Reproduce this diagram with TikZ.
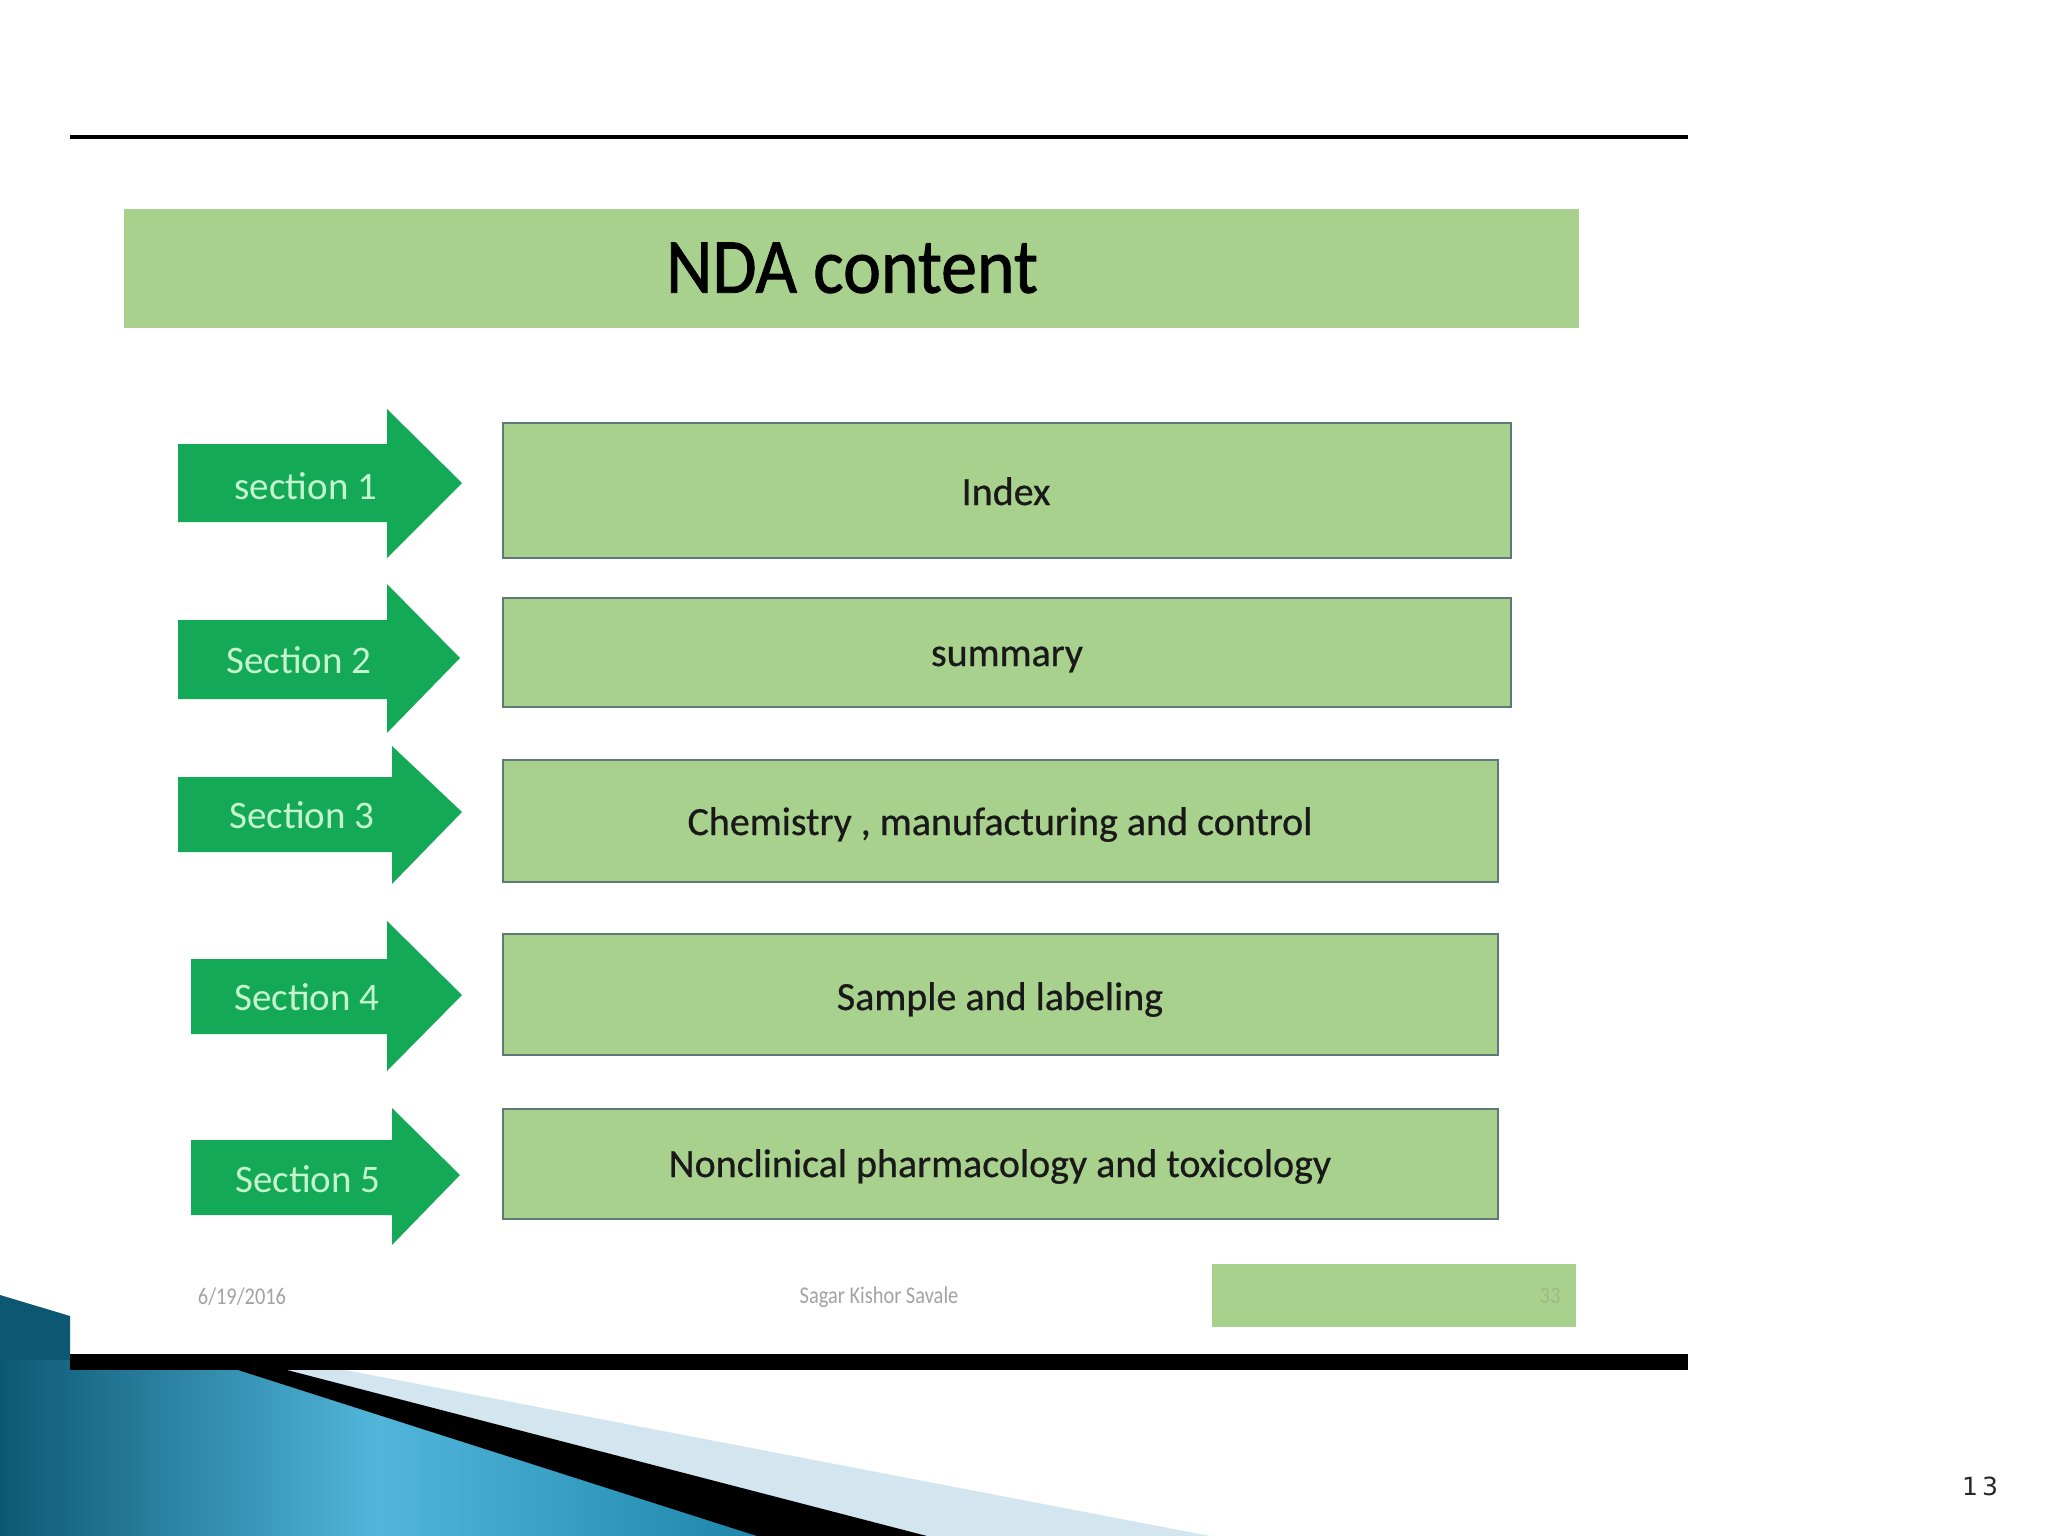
\documentclass[tikz,border=0pt]{standalone}
\usepackage{fontspec}
\setmainfont{Carlito}
\newfontfamily\pagefont{DejaVu Sans}
\newfontfamily\titlefont{Carlito}[FakeBold=1.2]
\newfontfamily\boxfont{Carlito}[FakeBold=0.6]
\definecolor{bandgreen}{HTML}{A9D18E}
\definecolor{arrowgreen}{HTML}{14A957}
\definecolor{arrowtext}{HTML}{C4F5CF}
\definecolor{boxborder}{HTML}{5F7878}
\definecolor{tealdark}{HTML}{0C5873}
\definecolor{teallight}{HTML}{52B6DB}
\definecolor{tealmid}{HTML}{1D86AB}
\definecolor{paleblue}{HTML}{D3E6EF}
\definecolor{footgray}{HTML}{A3A3A3}
\tikzset{
  contentbox/.style={draw=boxborder, line width=2.2pt, fill=bandgreen},
  boxtext/.style={font=\boxfont\fontsize{40}{46}\selectfont, text=black!90, anchor=center, inner sep=0pt, text height=26pt, text depth=0pt},
  arrowshape/.style={fill=arrowgreen, draw=none},
  arrowlabel/.style={font=\fontsize{39}{44}\selectfont, text=arrowtext, anchor=center, inner sep=0pt, text height=26pt, text depth=0pt},
  foottext/.style={font=\fontsize{24}{26}\selectfont, text=footgray, anchor=center, inner sep=0pt}
}
\begin{document}
\begin{tikzpicture}[x=1pt, y=-1pt]
\useasboundingbox (0,0) rectangle (2048,1536);
\fill[white] (0,0) rectangle (2048,1536);

% top rule
\draw[line width=4pt, black] (70,137) -- (1688,137);

% title band
\fill[bandgreen] (124,209) rectangle (1579,328);
\node[inner sep=0pt, anchor=center] (title) at (852,268)
  {\scalebox{0.92}[1]{\titlefont\fontsize{78}{84}\selectfont NDA content}};

% arrows
\fill[arrowshape] (178,444) -- (387,444) -- (387,409) -- (462,483) -- (387,558) -- (387,522) -- (178,522) -- cycle;
\node[arrowlabel] (s1) at (306,486) {section 1};
\fill[arrowshape] (178,620) -- (387,620) -- (387,584) -- (460,658) -- (387,733) -- (387,699) -- (178,699) -- cycle;
\node[arrowlabel] (s2) at (299,660) {Section 2};
\fill[arrowshape] (178,777) -- (392,777) -- (392,746) -- (462,812) -- (392,884) -- (392,852) -- (178,852) -- cycle;
\node[arrowlabel] (s3) at (302,815) {Section 3};
\fill[arrowshape] (191,959) -- (387,959) -- (387,921) -- (462,995) -- (387,1071) -- (387,1034) -- (191,1034) -- cycle;
\node[arrowlabel] (s4) at (307,997) {Section 4};
\fill[arrowshape] (191,1140) -- (392,1140) -- (392,1108) -- (460,1175) -- (392,1245) -- (392,1215) -- (191,1215) -- cycle;
\node[arrowlabel] (s5) at (308,1179) {Section 5};

% content boxes
\draw[contentbox] (503,423) rectangle (1511,558);
\node[boxtext] (b1) at (1006,492) {Index};
\draw[contentbox] (503,598) rectangle (1511,707);
\node[boxtext] (b2) at (1007,653) {summary};
\draw[contentbox] (503,760) rectangle (1498,882);
\node[boxtext] (b3) at (1000,822) {Chemistry , manufacturing and control};
\draw[contentbox] (503,934) rectangle (1498,1055);
\node[boxtext] (b4) at (1000,997) {Sample and labeling};
\draw[contentbox] (503,1109) rectangle (1498,1219);
\node[boxtext] (b5) at (1000,1164) {Nonclinical pharmacology and toxicology};

% footer
\node[foottext] (date) at (242,1297) {\scalebox{0.85}[1]{6/19/2016}};
\node[foottext] (author) at (879,1297) {\scalebox{0.85}[1]{Sagar Kishor Savale}};
\fill[bandgreen] (1212,1264) rectangle (1576,1327);
\node[foottext, text=bandgreen!70!gray] (pnum) at (1550,1296) {\scalebox{0.85}[1]{33}};

% bottom-left decoration
\fill[tealdark] (0,1295) -- (70,1316) -- (70,1362) -- (0,1362) -- cycle;
\shade[left color=tealdark, right color=tealmid, middle color=teallight]
  (0,1360) -- (240,1360) -- (757,1536) -- (0,1536) -- cycle;
\fill[paleblue] (285,1370) -- (345,1370) -- (1210,1536) -- (927,1536) -- cycle;
\fill[black] (238,1370) -- (287,1370) -- (927,1536) -- (757,1536) -- cycle;

% bottom bar
\fill[black] (70,1354) rectangle (1688,1370);

% slide number
\node[inner sep=0pt, anchor=center, font=\pagefont\fontsize{25}{28}\selectfont, text=black!85] (slidenum) at (1980,1486) {1\,3};
\end{tikzpicture}
\end{document}
